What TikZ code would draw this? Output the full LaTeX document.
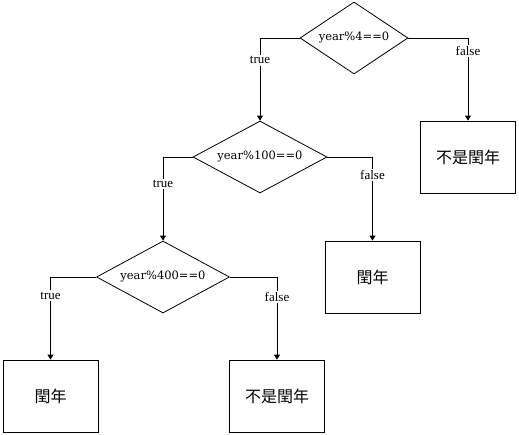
\documentclass[tikz,border=0pt]{standalone}
\usepackage{fontspec}
\setmainfont{Liberation Serif}
\newfontfamily\cjk{Noto Sans CJK TC}
\newfontfamily\decf{DejaVu Serif}
\usetikzlibrary{shapes.geometric,arrows.meta}
\begin{document}
\begin{tikzpicture}[x=1pt,y=-1pt,
  dec/.style={draw,diamond,inner sep=0pt,line width=0.8pt,minimum height=72pt,font=\decf\fontsize{11.5}{11.5}\selectfont},
  res/.style={draw,rectangle,inner sep=0pt,line width=0.8pt,minimum width=95pt,minimum height=72pt,font=\cjk\fontsize{16}{16}\selectfont},
  arr/.style={line width=0.8pt,-{Triangle[length=5pt,width=6pt]}},
  lab/.style={fill=white,inner sep=1.5pt,font=\fontsize{13}{13}\selectfont}]
\useasboundingbox (0,0) rectangle (519,434);
\node[dec,aspect=1.5,minimum width=108pt] (d1) at (354,38) {year\%4==0};
\node[dec,aspect=1.86,minimum width=134pt] (d2) at (260,157) {year\%100==0};
\node[dec,aspect=1.85,minimum width=133pt] (d3) at (163,277) {year\%400==0};
\node[res] (b1) at (468,157) {不是閏年};
\node[res] (b2) at (372.5,277) {閏年};
\node[res] (b3) at (50.5,396) {閏年};
\node[res] (b4) at (277,396) {不是閏年};
\draw[arr] (d1.west) -| node[lab,pos=0.635] {true} (d2.north);
\draw[arr] (d1.east) -| node[lab,pos=0.578] {false} (b1.north);
\draw[arr] (d2.west) -| node[lab,pos=0.66] {true} (d3.north);
\draw[arr] (d2.east) -| node[lab,pos=0.607] {false} (b2.north);
\draw[arr] (d3.west) -| node[lab,pos=0.613] {true} (b3.north);
\draw[arr] (d3.east) -| node[lab,pos=0.619] {false} (b4.north);
\end{tikzpicture}
\end{document}
